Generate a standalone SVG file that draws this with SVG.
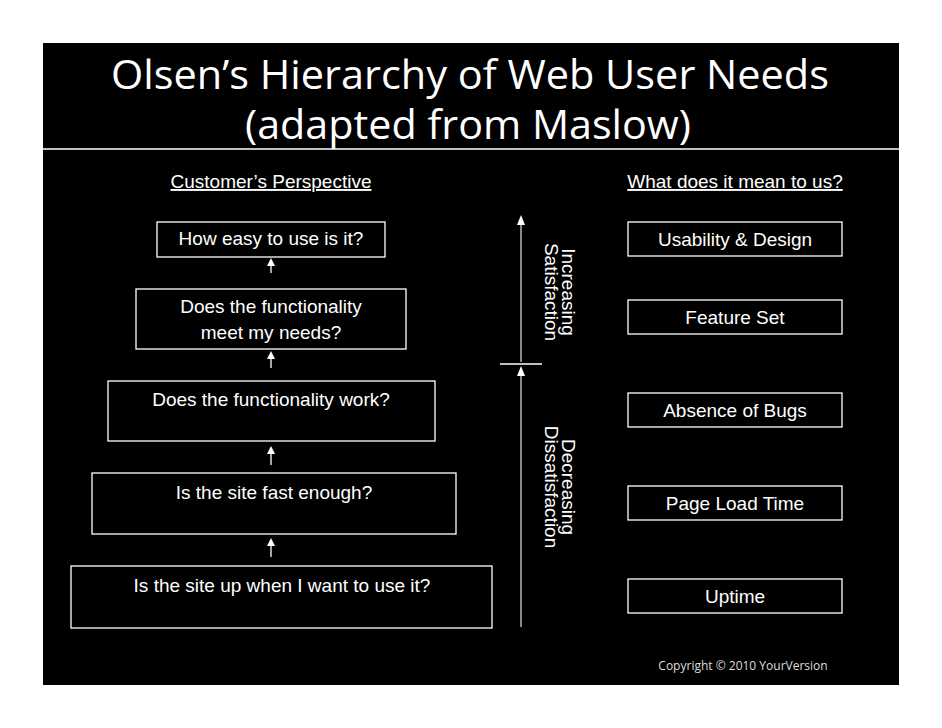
<svg xmlns="http://www.w3.org/2000/svg" width="942" height="728" viewBox="0 0 942 728">
<defs>
<style>
text{font-family:"Liberation Sans",Arial,sans-serif;fill:#fff;font-size:19px;text-anchor:middle}
.box{fill:none;stroke:#fff;stroke-width:1.3}
.ttl{font-family:"Open Sans","Noto Sans",sans-serif;font-size:40px}
.sa{stroke:#fff;stroke-width:1.3;marker-end:url(#ah)}
</style>
<marker id="ah" markerWidth="8" markerHeight="8" refX="4" refY="4" orient="auto" markerUnits="userSpaceOnUse"><path d="M0,0L8,4L0,8z" fill="#fff"/></marker>
<marker id="ah2" markerWidth="10" markerHeight="10" refX="5" refY="5" orient="auto" markerUnits="userSpaceOnUse"><path d="M0,1L10,5L0,9z" fill="#fff"/></marker>
</defs>
<rect width="942" height="728" fill="#fff"/>
<rect x="43" y="43" width="856" height="642" fill="#000"/>
<line x1="43" y1="149" x2="899" y2="149" stroke="#fff" stroke-width="1.5"/>
<text class="ttl" x="470" y="89" textLength="718" lengthAdjust="spacingAndGlyphs">Olsen’s Hierarchy of Web User Needs</text>
<text class="ttl" x="468" y="139" textLength="446" lengthAdjust="spacingAndGlyphs">(adapted from Maslow)</text>
<text x="271" y="188" text-decoration="underline">Customer’s Perspective</text>
<text x="735" y="188" text-decoration="underline">What does it mean to us?</text>
<g id="n1"><rect class="box" x="157" y="222" width="228" height="35"/><text x="271" y="245">How easy to use is it?</text></g>
<g id="n2"><rect class="box" x="136" y="289" width="270" height="60"/><text x="271" y="313">Does the functionality</text><text x="271" y="339">meet my needs?</text></g>
<g id="n3"><rect class="box" x="108" y="381" width="327" height="60"/><text x="271" y="406">Does the functionality work?</text></g>
<g id="n4"><rect class="box" x="92" y="473" width="364" height="61"/><text x="274" y="499">Is the site fast enough?</text></g>
<g id="n5"><rect class="box" x="71" y="566" width="421" height="62"/><text x="282" y="592">Is the site up when I want to use it?</text></g>
<g id="r1"><rect class="box" x="628" y="222" width="214" height="34"/><text x="735" y="246">Usability &amp; Design</text></g>
<g id="r2"><rect class="box" x="628" y="300" width="214" height="34"/><text x="735" y="324">Feature Set</text></g>
<g id="r3"><rect class="box" x="628" y="393" width="214" height="34"/><text x="735" y="417">Absence of Bugs</text></g>
<g id="r4"><rect class="box" x="628" y="486" width="214" height="34"/><text x="735" y="510">Page Load Time</text></g>
<g id="r5"><rect class="box" x="628" y="579" width="214" height="34"/><text x="735" y="603">Uptime</text></g>
<g id="connectors">
<line class="sa" x1="271" y1="273" x2="271" y2="262"/>
<line class="sa" x1="271" y1="368" x2="271" y2="355"/>
<line class="sa" x1="271" y1="465" x2="271" y2="450"/>
<line class="sa" x1="271" y1="557" x2="271" y2="542"/>
<line x1="521" y1="627" x2="521" y2="371" stroke="#888" stroke-width="2" marker-end="url(#ah2)"/>
<line x1="521" y1="362" x2="521" y2="220" stroke="#888" stroke-width="2" marker-end="url(#ah2)"/>
<line x1="500" y1="364" x2="542" y2="364" stroke="#fff" stroke-width="1.3"/>
</g>
<g font-size="19">
<text transform="translate(562,292) rotate(90)">Increasing</text>
<text transform="translate(545,292) rotate(90)">Satisfaction</text>
<text transform="translate(562,487) rotate(90)">Decreasing</text>
<text transform="translate(545,487) rotate(90)">Dissatisfaction</text>
</g>
<text x="743" y="670" style="font-family:'Open Sans','Noto Sans',sans-serif;font-size:12px;fill:#ddd">Copyright © 2010 YourVersion</text>
</svg>
